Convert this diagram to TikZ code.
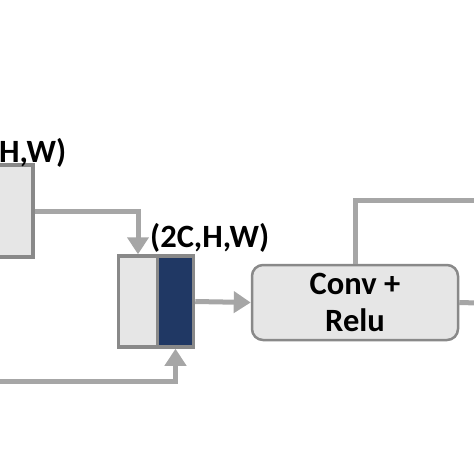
\documentclass[tikz,border=0pt]{standalone}
\usepackage{fontspec}
\setmainfont{Carlito}
\usetikzlibrary{arrows.meta}
\definecolor{bordergray}{HTML}{898989}
\definecolor{linegray}{HTML}{A6A6A6}
\definecolor{lightfill}{HTML}{E6E6E6}
\definecolor{navy}{HTML}{203864}
\tikzset{
  blk/.style={draw=bordergray, line width=3.5pt, fill=lightfill, inner sep=0pt},
  darkblk/.style={blk, fill=navy},
  convbox/.style={draw=bordergray, line width=2.5pt, fill=lightfill, rounded corners=11pt, inner sep=0pt,
    minimum width=206pt, minimum height=75pt, align=center, font=\fontsize{32.5}{37}\selectfont\bfseries},
  lbl/.style={inner sep=0pt, font=\fontsize{32.5}{37}\selectfont\bfseries},
  arr/.style={draw=linegray, line width=5pt, -{Triangle[width=21pt,length=17pt]}},
  ln/.style={draw=linegray, line width=5pt}
}
\begin{document}
\begin{tikzpicture}[x=1pt,y=-1pt]
\useasboundingbox (0,0) rectangle (474,474);
\clip (0,0) rectangle (474,474);
% input block (cut off at the left)
\node[blk, minimum width=46pt, minimum height=92pt] (in1) at (10,211) {};
\node[lbl, anchor=base west] (l1) at (-1,162) {H,W)};
% concatenated block
\node[blk, minimum width=39pt, minimum height=91pt] (cat1) at (138,301.5) {};
\node[darkblk, minimum width=36pt, minimum height=91pt] (cat2) at (175.5,301.5) {};
\node[lbl, anchor=base west] (l2) at (150,247) {(2C,H,W)};
% conv block
\node[convbox] (conv) at (355,302.5) {Conv +\\Relu};
% connectors
\coordinate (inlow) at (-2,381);
\coordinate (out1) at (478,200);
\coordinate (out2) at (478,303);
\draw[arr] (in1.east) -| (cat1.north);
\draw[arr] (inlow) -| (cat2.south);
\draw[arr] (cat2.east) -- (conv.west);
\draw[ln] (conv.north) |- (out1);
\draw[ln] (conv.east) -- (out2);
\end{tikzpicture}
\end{document}
